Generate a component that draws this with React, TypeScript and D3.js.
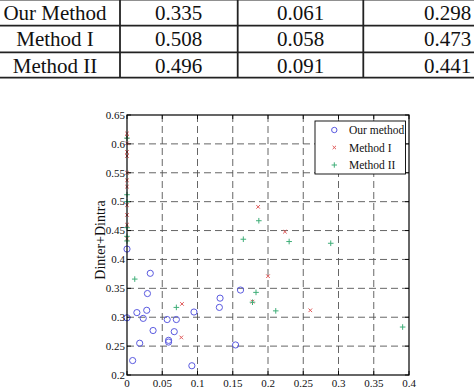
import React from "react";
import * as d3 from "d3";

// ---- Table data ----
const tableMethods = ["Our Method", "Method I", "Method II"];
const tableCol2 = ["0.335", "0.508", "0.496"];
const tableCol3 = ["0.061", "0.058", "0.091"];
const tableCol4 = ["0.298", "0.473", "0.441"];

// ---- Scatter data ----
const ourX = [0, 0.033, 0.029, 0.014, 0.028, 0.0, 0.023, 0.037, 0.018, 0.008, 0.057, 0.07, 0.059, 0.059, 0.067, 0.095, 0.092, 0.132, 0.131, 0.161, 0.154];
const ourY = [0.418, 0.376, 0.341, 0.308, 0.312, 0.299, 0.298, 0.277, 0.255, 0.225, 0.296, 0.296, 0.26, 0.257, 0.275, 0.309, 0.216, 0.333, 0.317, 0.347, 0.252];

const m1X = [0, 0, 0, 0, 0, 0, 0, 0, 0, 0, 0, 0, 0.078, 0.077, 0.178, 0.2, 0.186, 0.224, 0.26];
const m1Y = [0.618, 0.612, 0.601, 0.586, 0.579, 0.55, 0.537, 0.526, 0.494, 0.477, 0.46, 0.436, 0.323, 0.265, 0.327, 0.371, 0.491, 0.448, 0.312];

const m2X = [0, 0, 0, 0, 0, 0, 0.011, 0.07, 0.165, 0.183, 0.211, 0.187, 0.23, 0.289, 0.391, 0.178];
const m2Y = [0.61, 0.512, 0.5, 0.455, 0.44, 0.432, 0.366, 0.317, 0.435, 0.343, 0.311, 0.467, 0.431, 0.428, 0.283, 0.326];

const xTicks = [0, 0.05, 0.1, 0.15, 0.2, 0.25, 0.3, 0.35, 0.4];
const xTickLabels = ["0", "0.05", "0.1", "0.15", "0.2", "0.25", "0.3", "0.35", "0.4"];
const yTicks = [0.2, 0.25, 0.3, 0.35, 0.4, 0.45, 0.5, 0.55, 0.6, 0.65];
const yTickLabels = ["0.2", "0.25", "0.3", "0.35", "0.4", "0.45", "0.5", "0.55", "0.6", "0.65"];

const legendLabels = ["Our method", "Method I", "Method II"];
const yLabel = "Dinter+Dintra";

const BLUE = "#5a5ae0";
const RED = "#e05a5a";
const GREEN = "#3fae78";
const SERIF = "'Liberation Serif', 'Times New Roman', serif";

export default function App() {
  const x = d3.scaleLinear().domain([0, 0.4]).range([127, 409]);
  const y = d3.scaleLinear().domain([0.2, 0.65]).range([375, 115]);
  const [x0, x1] = x.range();
  const [y0, y1] = y.range(); // y0 bottom, y1 top

  // table geometry
  const colLines = [120, 237.7, 363.3];
  const colCenters = [55, 178.5, 300.5, 447.5];
  const rowLines = [-0.5, 25.7, 52.3, 77.7];
  const rowBaselines = [20, 46.3, 72.5];

  const tickLen = 4;

  const crossPath = (cx: number, cy: number, s: number) =>
    `M${cx - s},${cy - s}L${cx + s},${cy + s}M${cx - s},${cy + s}L${cx + s},${cy - s}`;
  const plusPath = (cx: number, cy: number, s: number) =>
    `M${cx - s},${cy}L${cx + s},${cy}M${cx},${cy - s}L${cx},${cy + s}`;

  return (
    <svg
      width={474}
      height={389}
      style={{ position: "absolute", left: 0, top: 0, background: "#fff" }}
    >
      <rect x={0} y={0} width={474} height={389} fill="#fff" />
      {/* Table */}
      <g>
        {rowLines.map((ry, i) => (
          <line key={"rl" + i} x1={0} x2={474} y1={ry} y2={ry} stroke="#222" strokeWidth={1.8} />
        ))}
        {colLines.map((cx, i) => (
          <line key={"cl" + i} x1={cx} x2={cx} y1={0} y2={77.7} stroke="#222" strokeWidth={1.8} />
        ))}
        {tableMethods.map((m, i) => (
          <g key={"tr" + i} fontFamily={SERIF} fontSize={21} fill="#111" textAnchor="middle">
            <text x={colCenters[0]} y={rowBaselines[i]}>{m}</text>
            <text x={colCenters[1]} y={rowBaselines[i]}>{tableCol2[i]}</text>
            <text x={colCenters[2]} y={rowBaselines[i]}>{tableCol3[i]}</text>
            <text x={colCenters[3]} y={rowBaselines[i]}>{tableCol4[i]}</text>
          </g>
        ))}
      </g>

      {/* Grid */}
      <g stroke="#555" strokeWidth={0.9} strokeDasharray="7,4">
        {xTicks.slice(1, -1).map((t, i) => (
          <line key={"gx" + i} x1={x(t)} x2={x(t)} y1={y0} y2={y1} />
        ))}
        {yTicks.slice(1, -1).map((t, i) => (
          <line key={"gy" + i} x1={x0} x2={x1} y1={y(t)} y2={y(t)} />
        ))}
      </g>

      {/* Ticks */}
      <g stroke="#000" strokeWidth={0.9}>
        {xTicks.map((t, i) => (
          <g key={"tx" + i}>
            <line x1={x(t)} x2={x(t)} y1={y0} y2={y0 - tickLen} />
            <line x1={x(t)} x2={x(t)} y1={y1} y2={y1 + tickLen} />
          </g>
        ))}
        {yTicks.map((t, i) => (
          <g key={"ty" + i}>
            <line x1={x0} x2={x0 + tickLen} y1={y(t)} y2={y(t)} />
            <line x1={x1} x2={x1 - tickLen} y1={y(t)} y2={y(t)} />
          </g>
        ))}
      </g>

      {/* Data */}
      <g fill="none" stroke={BLUE} strokeWidth={1}>
        {ourX.map((v, i) => (
          <circle key={"o" + i} cx={x(v)} cy={y(ourY[i])} r={3.1} />
        ))}
      </g>
      <g fill="none" stroke={RED} strokeWidth={1}>
        {m1X.map((v, i) => (
          <path key={"r" + i} d={crossPath(x(v), y(m1Y[i]), 1.8)} />
        ))}
      </g>
      <g fill="none" stroke={GREEN} strokeWidth={1}>
        {m2X.map((v, i) => (
          <path key={"g" + i} d={plusPath(x(v), y(m2Y[i]), 2.8)} />
        ))}
      </g>

      {/* Axes box */}
      <rect x={x0} y={y1} width={x1 - x0} height={y0 - y1} fill="none" stroke="#000" strokeWidth={1.2} />

      {/* Tick labels */}
      <g fontFamily={SERIF} fontSize={11} fill="#111">
        {xTicks.map((t, i) => (
          <text key={"xl" + i} x={x(t)} y={387} textAnchor="middle">{xTickLabels[i]}</text>
        ))}
        {yTicks.map((t, i) => (
          <text key={"yl" + i} x={x0 - 2} y={y(t) + 3.8} textAnchor="end">{yTickLabels[i]}</text>
        ))}
      </g>

      {/* Y label */}
      <text
        transform={`translate(105,240) rotate(-90)`}
        textAnchor="middle"
        fontFamily={SERIF}
        fontSize={14}
        fill="#111"
      >
        {yLabel}
      </text>

      {/* Legend */}
      <g>
        <rect x={315} y={121} width={90.5} height={53} fill="#fff" stroke="#000" strokeWidth={0.9} />
        <circle cx={334.3} cy={130} r={2.7} fill="none" stroke={BLUE} strokeWidth={1} />
        <path d={crossPath(334.3, 147.5, 1.7)} fill="none" stroke={RED} strokeWidth={1} />
        <path d={plusPath(334.3, 165, 2.7)} fill="none" stroke={GREEN} strokeWidth={1} />
        {legendLabels.map((l, i) => (
          <text key={"lg" + i} x={349} y={134 + i * 17.5} fontFamily={SERIF} fontSize={11.5} fill="#111">{l}</text>
        ))}
      </g>
    </svg>
  );
}
